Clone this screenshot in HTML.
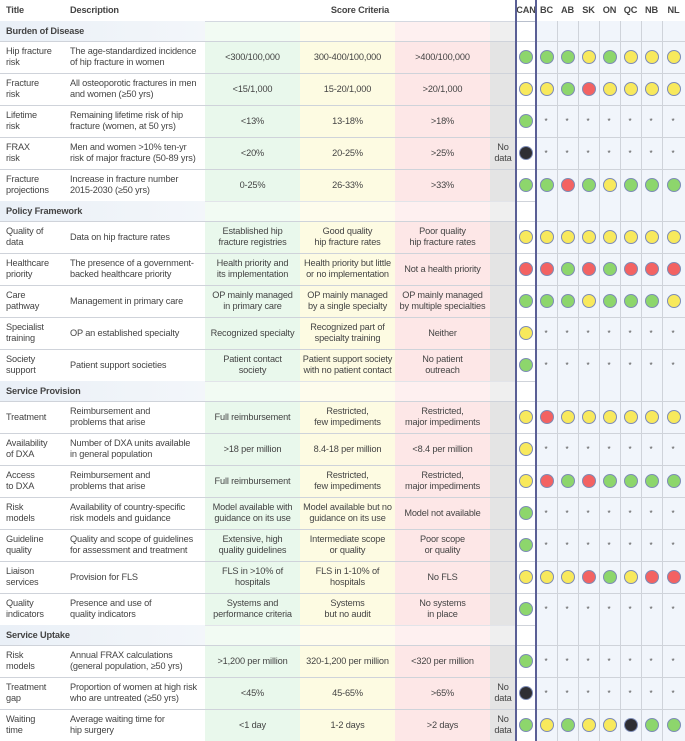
<!DOCTYPE html>
<html><head><meta charset="utf-8">
<style>
body{margin:0;width:685px;height:741px;overflow:hidden;background:#fff;font-family:"Liberation Sans",Arial,sans-serif;color:#444;font-size:9.2px;letter-spacing:-0.15px;}
#wrap{position:relative;width:685px;height:741px;overflow:hidden;}
.a{position:absolute;box-sizing:border-box;white-space:nowrap;}
.c{display:flex;align-items:center;justify-content:center;text-align:center;line-height:11px;}
.l{display:flex;align-items:center;line-height:11px;}
.dot{position:absolute;width:14px;height:14px;border-radius:50%;border:1px solid #7d8bb5;box-sizing:border-box;}
.star{position:absolute;font-size:8px;color:#555;}
</style></head><body>
<div id="wrap"></div>
<script>
const sections=["Burden of Disease","Policy Framework","Service Provision","Service Uptake"];
const titles=[["Hip fracture<br>risk","Fracture<br>risk","Lifetime<br>risk","FRAX<br>risk","Fracture<br>projections"],
["Quality of<br>data","Healthcare<br>priority","Care<br>pathway","Specialist<br>training","Society<br>support"],
["Treatment","Availability<br>of DXA","Access<br>to DXA","Risk<br>models","Guideline<br>quality","Liaison<br>services","Quality<br>indicators"],
["Risk<br>models","Treatment<br>gap","Waiting<br>time"]];
const descs=[["The age-standardized incidence<br>of hip fracture in women","All osteoporotic fractures in men<br>and women (≥50 yrs)","Remaining lifetime risk of hip<br>fracture (women, at 50 yrs)","Men and women &gt;10% ten-yr<br>risk of major fracture (50-89 yrs)","Increase in fracture number<br>2015-2030 (≥50 yrs)"],
["Data on hip fracture rates","The presence of a government-<br>backed healthcare priority","Management in primary care","OP an established specialty","Patient support societies"],
["Reimbursement and<br>problems that arise","Number of DXA units available<br>in general population","Reimbursement and<br>problems that arise","Availability of country-specific<br>risk models and guidance","Quality and scope of guidelines<br>for assessment and treatment","Provision for FLS","Presence and use of<br>quality indicators"],
["Annual FRAX calculations<br>(general population, ≥50 yrs)","Proportion of women at high risk<br>who are untreated (≥50 yrs)","Average waiting time for<br>hip surgery"]];
const greens=[["&lt;300/100,000","&lt;15/1,000","&lt;13%","&lt;20%","0-25%"],["Established hip<br>fracture registries","Health priority and<br>its implementation","OP mainly managed<br>in primary care","Recognized specialty","Patient contact<br>society"],["Full reimbursement","&gt;18 per million","Full reimbursement","Model available with<br>guidance on its use","Extensive, high<br>quality guidelines","FLS in &gt;10% of<br>hospitals","Systems and<br>performance criteria"],["&gt;1,200 per million","&lt;45%","&lt;1 day"]];
const yellows=[["300-400/100,000","15-20/1,000","13-18%","20-25%","26-33%"],["Good quality<br>hip fracture rates","Health priority but little<br>or no implementation","OP mainly managed<br>by a single specialty","Recognized part of<br>specialty training","Patient support society<br>with no patient contact"],["Restricted,<br>few impediments","8.4-18 per million","Restricted,<br>few impediments","Model available but no<br>guidance on its use","Intermediate scope<br>or quality","FLS in 1-10% of<br>hospitals","Systems<br>but no audit"],["320-1,200 per million","45-65%","1-2 days"]];
const reds=[["&gt;400/100,000","&gt;20/1,000","&gt;18%","&gt;25%","&gt;33%"],["Poor quality<br>hip fracture rates","Not a health priority","OP mainly managed<br>by multiple specialties","Neither","No patient<br>outreach"],["Restricted,<br>major impediments","&lt;8.4 per million","Restricted,<br>major impediments","Model not available","Poor scope<br>or quality","No FLS","No systems<br>in place"],["&lt;320 per million","&gt;65%","&gt;2 days"]];
const nodata=[[0,0,0,1,0],[0,0,0,0,0],[0,0,0,0,0,0,0],[0,1,1]];
const regions=["CAN","BC","AB","SK","ON","QC","NB","NL"];
const scores=[["GGGYGYYY","YYGRYYYY","G*","K*","GGRGYGGG"],["YYYYYYYY","RRGRGRRR","GGGYGGGY","Y*","G*"],["YRYYYYYY","Y*","YRGRGGGG","G*","G*","YYYRGYRR","G*"],["G*","K*","GYGYYKGG"]];
const col={G:"#8dd66c",Y:"#f8e95c",R:"#f36262",K:"#2e2e33"};
const W=document.getElementById('wrap');
function box(x,y,w,h,cls,html,bg,name){const d=document.createElement('div');d.className='a '+(cls||'');d.style.cssText=`left:${x}px;top:${y}px;width:${w}px;height:${h}px;`+(bg?`background:${bg};`:'');if(html!==undefined)d.innerHTML=html;


W.appendChild(d);return d;}
const HDR=21,SEC=20,ROW=32;
const rx=[536,557,578,599,620,641,662,685];
box(205,0,95,741,'',undefined,'#e9f8ec','green-column');
box(300,0,95,741,'',undefined,'#fdfbe2','yellow-column');
box(395,0,95,741,'',undefined,'#fde7e7','red-column');
box(490,0,26,741,'',undefined,'#e4e4e4','nodata-column');
box(536,0,149,741,'',undefined,'#f1f5fb','province-columns');
box(0,0,685,HDR,'',undefined,'#fff','header-bg');
box(6,0,60,HDR,'l','<b>Title</b>',null,'title-header');
box(70,0,130,HDR,'l','<b>Description</b>',null,'description-header');
box(205,0,310,HDR,'c','<b>Score Criteria</b>',null,'score-criteria-header');
regions.forEach((r,i)=>{const x=i==0?516:rx[i-1];const w=i==0?20:rx[i]-rx[i-1];box(x,0,w,HDR,'c','<b>'+r+'</b>',null,'region-header-'+r.toLowerCase());});
let y=HDR;
function hline(yy,c){box(0,yy,685,1,'',undefined,c||'#cfd3da','row-divider');}
hline(y,'#b8bfcc');
sections.forEach((s,si)=>{
  box(0,y,205,SEC,'',undefined,'linear-gradient(90deg,#eaf0f7,#f3f6fa)','section-bg');
  box(205,y,311,SEC,'',undefined,'rgba(255,255,255,0.4)','section-fade');
  box(536,y,149,SEC,'',undefined,'#f1f5fb','section-province-bg');
  box(6,y,200,SEC,'l','<b>'+s+'</b>',null,'section-'+s.toLowerCase().replace(/ /g,'-'));
  y+=SEC;hline(y);
  titles[si].forEach((t,ri)=>{
    box(6,y,64,ROW,'l',t,null,'row-title');
    box(70,y,135,ROW,'l',descs[si][ri],null,'row-description');
    box(205,y,95,ROW,'c',greens[si][ri],null,'criteria-green');
    box(300,y,95,ROW,'c',yellows[si][ri],null,'criteria-yellow');
    box(395,y,95,ROW,'c',reds[si][ri],null,'criteria-red');
    if(nodata[si][ri])box(490,y,26,ROW,'c','No<br>data',null,'no-data-label');
    const sc=scores[si][ri];
    for(let k=0;k<8;k++){
      const cx=k==0?526:(rx[k-1]+rx[k])/2;
      const ch=sc.length===2&&k>0?'*':sc[k];
      if(ch==='*'){const st=document.createElement('div');st.className='star';st.textContent='*';st.style.left=(cx-2)+'px';st.style.top=(y+ROW/2-4)+'px';
        
        
        W.appendChild(st);}
      else{const d=document.createElement('div');d.className='dot';d.style.left=(cx-7)+'px';d.style.top=(y+ROW/2-7)+'px';d.style.background=col[ch];
        
        
        W.appendChild(d);}
    }
    y+=ROW;hline(y);
  });
});
[557,578,599,620,641,662].forEach(x=>box(x,HDR,1,720,'',undefined,'#cfd3da','column-divider'));
box(515,0,1.5,741,'',undefined,'#5a5f95','can-left-line');
box(535,0,1.5,741,'',undefined,'#5a5f95','can-right-line');
</script>
</body></html>
